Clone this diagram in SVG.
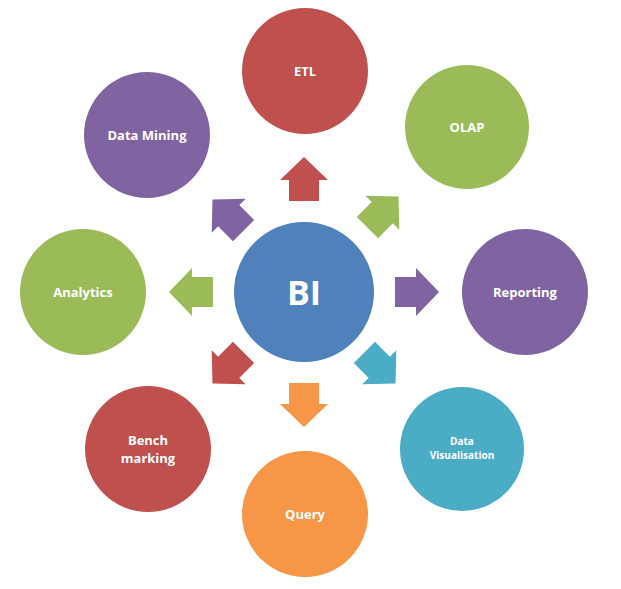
<svg xmlns="http://www.w3.org/2000/svg" width="621" height="589" viewBox="0 0 621 589">
<defs>
<style>
text{font-family:"Open Sans","Liberation Sans",sans-serif;font-weight:bold;fill:#fff;text-anchor:middle;dominant-baseline:central;font-size:13px}
.r{fill:#C0504D}.g{fill:#9BBB59}.p{fill:#8064A2}.b{fill:#4F81BD}.c{fill:#4BACC6}.o{fill:#F79646}
</style>
<path id="ar" d="M-22,-15 H-1 V-24 L22,0 L-1,24 V15 H-22 Z"/>
</defs>
<rect width="621" height="589" fill="#fff"/>
<g id="connectors">
<use href="#ar" class="r" transform="translate(304,179) rotate(-90)"/>
<use href="#ar" class="g" transform="translate(383,212) rotate(-45)"/>
<use href="#ar" class="p" transform="translate(417,292)"/>
<use href="#ar" class="c" transform="translate(380,368) rotate(45)"/>
<use href="#ar" class="o" transform="translate(304,405) rotate(90)"/>
<use href="#ar" class="r" transform="translate(228,368) rotate(135)"/>
<use href="#ar" class="g" transform="translate(191,292) rotate(180)"/>
<use href="#ar" class="p" transform="translate(228,215) rotate(-135)"/>
</g>
<g id="bi"><circle class="b" cx="304" cy="292" r="70"/><text x="304" y="292" style="font-size:34px">BI</text></g>
<g id="etl"><circle class="r" cx="305" cy="71" r="63"/><text x="305" y="71">ETL</text></g>
<g id="olap"><circle class="g" cx="467" cy="127" r="62"/><text x="467" y="127">OLAP</text></g>
<g id="reporting"><circle class="p" cx="525" cy="292" r="63"/><text x="525" y="292">Reporting</text></g>
<g id="datavis"><circle class="c" cx="462" cy="449" r="62"/><text x="462" y="441" style="font-size:10px">Data</text><text x="462" y="455" style="font-size:10px">Visualisation</text></g>
<g id="query"><circle class="o" cx="305" cy="514" r="63"/><text x="305" y="514">Query</text></g>
<g id="bench"><circle class="r" cx="148" cy="449" r="63"/><text x="148" y="440">Bench</text><text x="148" y="458">marking</text></g>
<g id="analytics"><circle class="g" cx="83" cy="292" r="63"/><text x="83" y="292">Analytics</text></g>
<g id="mining"><circle class="p" cx="147" cy="135" r="63"/><text x="147" y="135">Data Mining</text></g>
</svg>
